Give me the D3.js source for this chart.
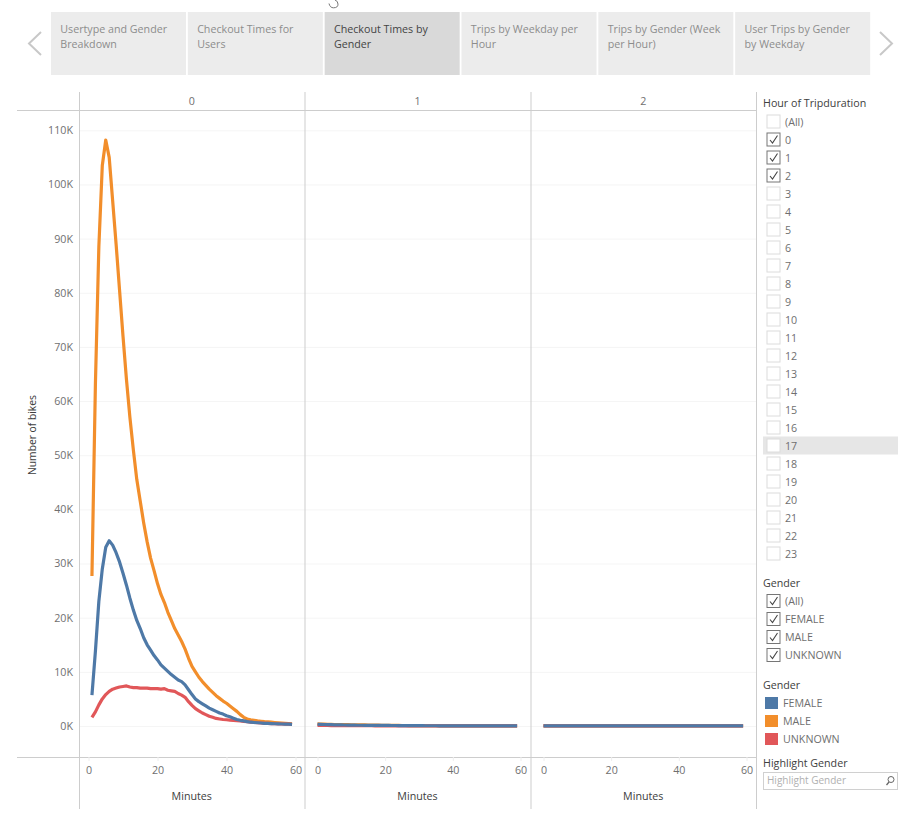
<!DOCTYPE html>
<html><head><meta charset="utf-8">
<script src="https://cdn.jsdelivr.net/npm/d3@7"></script>
<style>
html,body{margin:0;padding:0;background:#fff;overflow:hidden}
svg{display:block}
text{font-family:"Open Sans",sans-serif;font-size:10.7px;fill:#6f6f6f}
.domain{display:none}
</style></head><body>
<script>
const tabs = [["Usertype and Gender","Breakdown"],["Checkout Times for","Users"],["Checkout Times by","Gender"],["Trips by Weekday per","Hour"],["Trips by Gender (Week","per Hour)"],["User Trips by Gender","by Weekday"]];
const selectedTab = 2;
const hourLabels = ["(All)","0","1","2","3","4","5","6","7","8","9","10","11","12","13","14","15","16","17","18","19","20","21","22","23"];
const hoursChecked = ["0","1","2"];
const hoveredHour = "17";
const genders = ["FEMALE","MALE","UNKNOWN"];
const genderColors = ["#4e79a7","#f28e2b","#e15759"];
const panels = ["0","1","2"];
const yTicks = [0,10,20,30,40,50,60,70,80,90,100,110];
const xTicks = [0,20,40,60];

// values in thousands of bikes; hour 0 starts at minute 1, hours 1 and 2 at minute 0
const maleH0 = [27.7,63,88.5,103.5,108.2,105,97,89,80.5,72,64,57,51,45.5,41.5,37.5,34,31,28.7,26.3,24.3,22.8,21,19.5,18,16.8,15.6,14.2,12.5,11,10,9,8.2,7.5,6.8,6.2,5.6,5.1,4.6,4.2,3.7,3.2,2.7,2.1,1.6,1.3,1.15,1.05,.95,.88,.8,.75,.7,.65,.6,.55,.5,.45,.4];
const femaleH0 = [5.7,13.8,23,29,33,34.2,33.4,32,30.3,28.2,26,23.6,21.4,19.5,18,16.3,15,14,13,12.2,11.3,10.7,10.1,9.5,9,8.5,8.2,7.6,6.7,5.8,5,4.5,4.1,3.7,3.3,3,2.7,2.4,2.2,1.9,1.7,1.45,1.2,1.05,.95,.8,.7,.65,.6,.55,.5,.47,.44,.42,.4,.37,.35,.33,.3];
const unknownH0 = [1.6,2.6,3.9,5,5.8,6.4,6.8,7,7.2,7.3,7.4,7.2,7.1,7.1,7,7,7,6.9,6.9,6.9,6.8,6.9,6.6,6.5,6.4,6,5.7,5.3,4.5,3.8,3.2,2.8,2.4,2.1,1.8,1.6,1.4,1.3,1.2,1.15,1.1,1.05,1,.95,.85,.8,.7,.65,.6,.55,.5,.47,.44,.42,.4,.37,.35,.33,.3];
const maleH1 = [.38,.36,.34,.32,.3,.28,.27,.26,.25,.24,.23,.22,.21,.2,.19,.18,.17,.16,.15,.14,.13,.12,.11,.1,.1,.09,.09,.08,.08,.07,.06,.06,.05,.05,.05,.05,.04,.04,.04,.04,.03,.03,.03,.03,.03,.03,.02,.02,.02,.02,.02,.02,.02,.02,.02,.02,.01,.01,.01,.01];
const unknownH1 = [.1,.1,.09,.09,.08,.08,.08,.07,.07,.07,.06,.06,.06,.05,.05,.05,.05,.04,.04,.04,.04,.03,.03,.03,.03,.03,.02,.02,.02,.02,.02,.02,.02,.02,.01,.01,.01,.01,.01,.01,.01,.01,.01,.01,.01,.01,.01,.01,.01,.01,.01,.01,.01,.01,.01,.01,.01,.01,.01,.01];
const femaleH1 = [.32,.3,.28,.26,.24,.22,.2,.19,.18,.17,.16,.15,.14,.14,.13,.13,.12,.12,.11,.11,.1,.1,.09,.09,.08,.08,.07,.07,.07,.06,.06,.06,.05,.05,.05,.05,.04,.04,.04,.04,.03,.03,.03,.03,.03,.03,.02,.02,.02,.02,.02,.02,.02,.02,.02,.02,.01,.01,.01,.01];
const maleH2 = [.02,.02,.02,.02,.02,.02,.02,.02,.02,.02,.02,.02,.02,.02,.02,.02,.02,.02,.02,.02,.02,.02,.02,.02,.02,.02,.02,.02,.02,.02,.02,.02,.02,.02,.02,.02,.02,.02,.02,.02,.01,.01,.01,.01,.01,.01,.01,.01,.01,.01,.01,.01,.01,.01,.01,.01,.01,.01,.01,.01];
const unknownH2 = [.01,.01,.01,.01,.01,.01,.01,.01,.01,.01,.01,.01,.01,.01,.01,.01,.01,.01,.01,.01,.01,.01,.01,.01,.01,.01,.01,.01,.01,.01,.01,.01,.01,.01,.01,.01,.01,.01,.01,.01,.01,.01,.01,.01,.01,.01,.01,.01,.01,.01,.01,.01,.01,.01,.01,.01,.01,.01,.01,.01];
const femaleH2 = [.02,.02,.02,.02,.02,.02,.02,.02,.02,.02,.02,.02,.02,.02,.02,.02,.02,.02,.02,.02,.02,.02,.02,.02,.02,.02,.02,.02,.02,.02,.02,.02,.02,.02,.02,.02,.02,.02,.02,.02,.01,.01,.01,.01,.01,.01,.01,.01,.01,.01,.01,.01,.01,.01,.01,.01,.01,.01,.01,.01];

const hourSeries = [
  {start:1, series:[{v:maleH0,c:1},{v:unknownH0,c:2},{v:femaleH0,c:0}]},
  {start:0, series:[{v:maleH1,c:1},{v:unknownH1,c:2},{v:femaleH1,c:0}]},
  {start:0, series:[{v:maleH2,c:1},{v:unknownH2,c:2},{v:femaleH2,c:0}]}
];

const W=920,H=822;
const svg=d3.select("body").append("svg").attr("width",W).attr("height",H);
const line="#cdcdcd", grid="#f5f5f5", txt="#6f6f6f", dark="#404040";

// unreadable fragment of a glyph cropped by the top of the page
svg.append("path").attr("d","M329,3.5Q330,7.8 333.5,7.8Q338,7.8 338,4.2Q338,1 335,0").attr("fill","none").attr("stroke","#777").attr("stroke-width",1);

// tabs
const tabX=d3.scaleBand().domain(d3.range(tabs.length)).range([51,872]).paddingInner(0.0);
const tabG=svg.selectAll("g.tab").data(tabs).join("g").attr("class","tab")
  .attr("transform",(d,i)=>`translate(${tabX(i)},12)`);
tabG.append("rect").attr("width",135).attr("height",63)
  .attr("fill",(d,i)=>i===selectedTab?"#d9d9d9":"#ececec");
tabG.each(function(d,i){
  d3.select(this).selectAll("text").data(d).join("text")
    .attr("x",9.3).attr("y",(t,j)=>21+j*15)
    .style("fill",i===selectedTab?"#444":"#8c8c8c").text(t=>t);
});
svg.append("path").attr("d","M41,32L29,43.5L41,55").attr("fill","none").attr("stroke","#c8c8c8").attr("stroke-width",2);
svg.append("path").attr("d","M880,32L892,43.5L880,55").attr("fill","none").attr("stroke","#c8c8c8").attr("stroke-width",2);

// chart
const panelEdges=[79.5,305,531,756.5];
const axisRanges=[[88.5,295.5],[317.5,520.5],[543.5,746.5]];
const y=d3.scaleLinear().domain([0,110]).range([726,130.3]);

// gridlines
svg.append("g").selectAll("line").data(yTicks).join("line")
  .attr("x1",80).attr("x2",756).attr("y1",d=>y(d)+.5).attr("y2",d=>y(d)+.5).attr("stroke",grid);

// y axis
const yAxis=svg.append("g").attr("transform","translate(79,0)")
  .call(d3.axisLeft(y).tickValues(yTicks).tickFormat(d=>d+"K").tickSize(0).tickPadding(6));
yAxis.selectAll("text").style("font-size","10.7px").style("fill",txt);
svg.append("text").attr("transform","translate(36,435) rotate(-90)").attr("text-anchor","middle")
  .style("fill",dark).style("font-size","10.3px").text("Number of bikes");

// frame
const frame=svg.append("g").attr("stroke",line).attr("fill","none");
[[17,756.5,110.5],[17,756.5,757.5]].forEach(([a,b,v])=>frame.append("line").attr("x1",a).attr("x2",b).attr("y1",v).attr("y2",v));
panelEdges.forEach(v=>frame.append("line").attr("x1",v).attr("x2",v).attr("y1",92).attr("y2",809));

panels.forEach((p,i)=>{
  const x=d3.scaleLinear().domain([0,60]).range(axisRanges[i]);
  const mid=(panelEdges[i]+panelEdges[i+1])/2;
  svg.append("text").attr("x",mid-.5).attr("y",105).attr("text-anchor","middle").text(p);
  const ax=svg.append("g").attr("transform","translate(0,757)")
    .call(d3.axisBottom(x).tickValues(xTicks).tickSize(4).tickPadding(5));
  ax.selectAll("line").attr("stroke","#eeeeee");
  ax.selectAll("text").style("font-size","10.7px").style("fill",txt);
  svg.append("text").attr("x",mid-.5).attr("y",800).attr("text-anchor","middle").style("fill",dark).text("Minutes");
  const ln=d3.line().x((d,j)=>x(j+hourSeries[i].start)).y(d=>y(d)).curve(d3.curveLinear);
  svg.append("g").selectAll("path").data(hourSeries[i].series).join("path")
    .attr("d",s=>ln(s.v)).attr("fill","none").attr("stroke",s=>genderColors[s.c])
    .attr("stroke-width",3.2).attr("stroke-linejoin","round").attr("stroke-linecap","butt");
});

// filter helpers
function check(g,x,yc,on){
  g.append("rect").attr("x",x+.5).attr("y",yc-6.5).attr("width",13).attr("height",13)
    .attr("fill","#fff").attr("stroke",on?"#767676":"#dcdcdc").attr("stroke-width",1);
  if(on) g.append("path").attr("d",`M${x+3.5},${yc+.5}L${x+6},${yc+3.5}L${x+11},${yc-4}`)
    .attr("fill","none").attr("stroke","#444").attr("stroke-width",1.1);
}
const side=svg.append("g");
side.append("text").attr("x",763).attr("y",107).style("fill",dark).text("Hour of Tripduration");
const hourY=d3.scaleLinear().domain([0,24]).range([121.5,553.5]);
side.append("rect").attr("x",763).attr("y",hourY(hourLabels.indexOf(hoveredHour))-9).attr("width",135).attr("height",18).attr("fill","#e6e6e6");
hourLabels.forEach((h,i)=>{
  check(side,766.5,hourY(i),hoursChecked.includes(h));
  side.append("text").attr("x",785).attr("y",hourY(i)+4).text(h);
});
side.append("text").attr("x",763).attr("y",587).style("fill",dark).text("Gender");
["(All)",...genders].forEach((g,i)=>{
  check(side,766.5,601+i*18,true);
  side.append("text").attr("x",785).attr("y",605+i*18).text(g);
});
side.append("text").attr("x",763).attr("y",689).style("fill",dark).text("Gender");
genders.forEach((g,i)=>{
  side.append("rect").attr("x",765).attr("y",697+i*18).attr("width",13).attr("height",12).attr("fill",genderColors[i]);
  side.append("text").attr("x",783).attr("y",707+i*18).text(g);
});
side.append("text").attr("x",763).attr("y",767).style("fill",dark).text("Highlight Gender");
side.append("rect").attr("x",763.5).attr("y",772.5).attr("width",134).attr("height",17).attr("fill","#fff").attr("stroke","#d0d0d0");
side.append("text").attr("x",767).attr("y",784).style("fill","#b0b0b0").style("font-size","10px").text("Highlight Gender");
side.append("circle").attr("cx",891).attr("cy",779.5).attr("r",3).attr("fill","none").attr("stroke","#666");
side.append("line").attr("x1",889).attr("y1",782).attr("x2",886.5).attr("y2",785).attr("stroke","#666").attr("stroke-width",1.3);
</script></body></html>
